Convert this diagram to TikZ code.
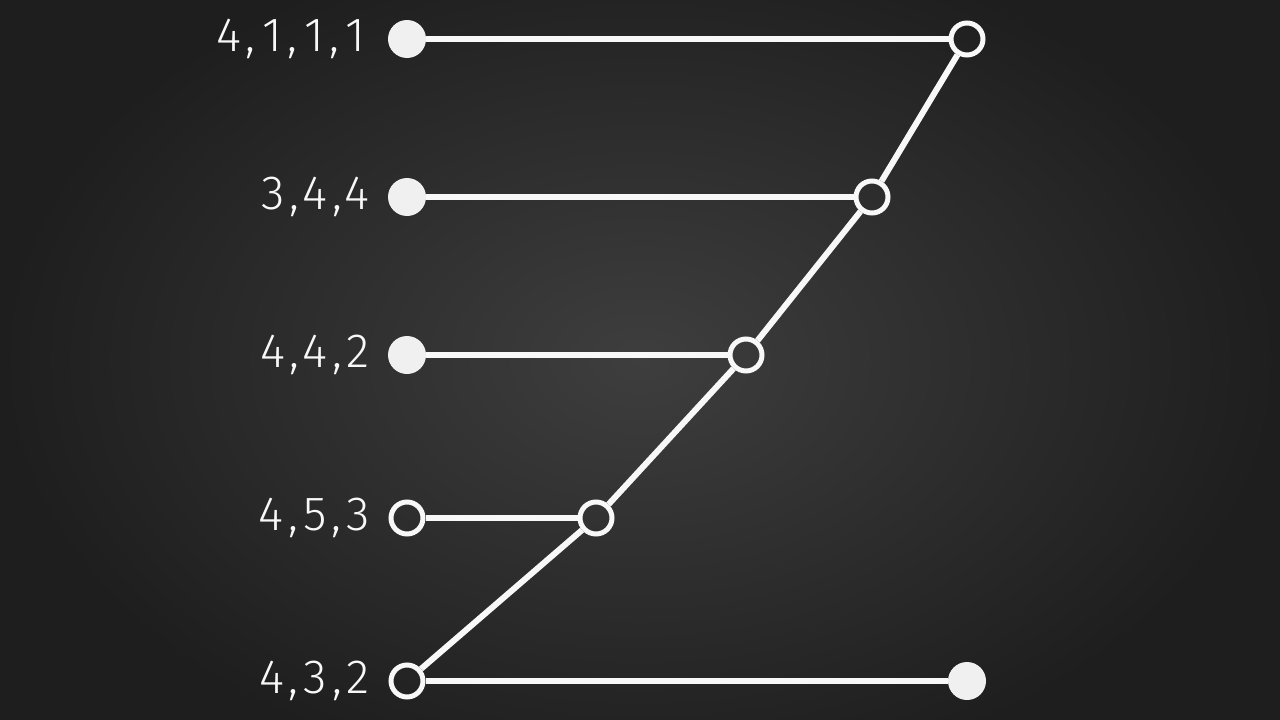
\documentclass[tikz,border=0pt]{standalone}
\usepackage{fontspec}
\setmainfont{Fira Sans Light}
\usetikzlibrary{shadings}
\definecolor{bgdark}{RGB}{30,30,30}
\definecolor{bgmid}{RGB}{62,62,62}
\definecolor{chalk}{RGB}{248,248,248}
\definecolor{chalkdot}{RGB}{240,240,240}
\begin{document}
\begin{tikzpicture}[x=1pt,y=-1pt,
  opendot/.style={circle,draw=chalk,line width=5pt,minimum size=32pt,inner sep=0pt},
  filldot/.style={circle,fill=chalkdot,minimum size=38pt,inner sep=0pt},
  lbl/.style={anchor=east,text=chalk,font=\fontsize{48}{52}\selectfont\addfontfeatures{LetterSpace=10},inner sep=0pt},
  link/.style={draw=chalk,line width=6pt}]
\useasboundingbox (0,0) rectangle (1280,720);
\fill[bgdark] (0,0) rectangle (1280,720);
\shade[inner color=bgmid,outer color=bgdark] (640,360) ellipse (640 and 430);
% left nodes
\node[filldot] (l1) at (407,39) {};
\node[filldot] (l2) at (407,197) {};
\node[filldot] (l3) at (407,355) {};
\node[opendot] (l4) at (407,518) {};
\node[opendot] (l5) at (407,681) {};
% right nodes
\node[opendot] (r1) at (967,39) {};
\node[opendot] (r2) at (872,197) {};
\node[opendot] (r3) at (746,355) {};
\node[opendot] (r4) at (596,518) {};
\node[filldot] (r5) at (967,681) {};
% labels
\node[lbl] (t1) at (366,39) {4,\kern7pt 1,\kern7pt 1,\kern7pt 1};
\node[lbl] (t2) at (370,197) {3,4,4};
\node[lbl] (t3) at (370,355) {4,4,2};
\node[lbl] (t4) at (370,518) {4,5,3};
\node[lbl] (t5) at (370,681) {4,3,2};
% horizontal links
\draw[link] (l1) -- (r1);
\draw[link] (l2) -- (r2);
\draw[link] (l3) -- (r3);
\draw[link] (l4) -- (r4);
\draw[link] (l5) -- (r5);
% zigzag
\draw[link] (l5) -- (r4);
\draw[link] (r4) -- (r3);
\draw[link] (r3) -- (r2);
\draw[link] (r2) -- (r1);
\end{tikzpicture}
\end{document}
